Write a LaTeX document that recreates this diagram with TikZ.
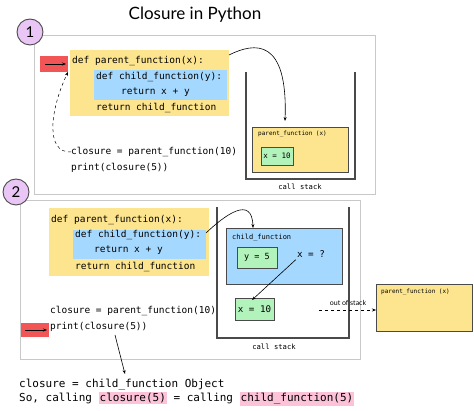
\documentclass[tikz,border=0pt]{standalone}
\usepackage{fontspec}
\setmainfont{Lato}
\setmonofont{DejaVu Sans Mono}
\usetikzlibrary{arrows.meta}
\definecolor{cyel}{HTML}{FCE58E}
\definecolor{cblue}{HTML}{A5D8FF}
\definecolor{cgreen}{HTML}{B2F2BB}
\definecolor{cred}{HTML}{F25555}
\definecolor{cpurple}{HTML}{E9C6F5}
\definecolor{cpink}{HTML}{FCC2D7}
\definecolor{cframe}{HTML}{C8C8C8}
\definecolor{cdark}{HTML}{4A4A4A}
\tikzset{
  area/.style={anchor=north west, inner sep=0pt, outer sep=0pt},
  frame/.style={area, draw=cframe, line width=0.8pt},
  sbox/.style={area, draw=cdark, line width=0.7pt},
  code/.style={anchor=west, inner sep=0pt, font=\fontsize{9.5}{11}\ttfamily},
  small/.style={anchor=west, inner sep=0pt, font=\fontsize{6}{7}\ttfamily},
  stacklbl/.style={inner sep=0pt, font=\fontsize{7.2}{8}\ttfamily},
  stackwall/.style={draw=cdark, line width=1.1pt},
  num/.style={circle, draw=cdark, line width=0.9pt, fill=cpurple, minimum size=26pt, inner sep=0pt, font=\fontsize{15}{15}\selectfont},
  arr/.style={-{Stealth[length=4pt,width=3pt]}, line width=0.6pt, black},
  redmark/.style={area, fill=cred},
}
\begin{document}
\begin{tikzpicture}[x=1pt,y=-1pt]
\useasboundingbox[fill=white] (0,0) rectangle (474,411);

% title
\node[inner sep=0pt, font=\fontsize{17}{20}\selectfont] (title) at (195,15) {Closure in Python};

% ================= frame 1 =================
\node[frame, minimum width=341pt, minimum height=159pt] (f1) at (34,35) {};
\node[num] (n1) at (30,32) {1};

\node[area, fill=cyel, minimum width=159pt, minimum height=66pt] (code1) at (70,50) {};
\node[area, fill=cblue, minimum width=133pt, minimum height=30pt] (blue1) at (94,70) {};
\node[code] (a1) at (72,61) {def parent\_function(x):};
\node[code] (a2) at (96,77) {def child\_function(y):};
\node[code] (a3) at (121,92) {return x + y};
\node[code] (a4) at (96,108) {return child\_function};
\node[code] (a5) at (71,152) {closure = parent\_function(10)};
\node[code] (a6) at (71,168) {print(closure(5))};

\node[redmark, minimum width=28pt, minimum height=16pt] (r1) at (40,56) {};
\coordinate (r1s) at (45,64);
\coordinate (r1e) at (66,64);
\draw[arr] (r1s) -- (r1e);

\draw[arr, dashed, line width=0.5pt] (a5.west) .. controls (45,153) and (50,110) .. (r1.south east);

% stack 1
\draw[stackwall] (246,72) -- (246,179) -- (355,179) -- (355,72);
\node[sbox, fill=cyel, minimum width=96pt, minimum height=45pt] (pf1) at (252,127) {};
\node[small] (pf1l) at (258,134) {parent\_function (x)};
\node[sbox, fill=cgreen, minimum width=32pt, minimum height=18pt] (x1) at (261,147) {};
\node[inner sep=0pt, font=\fontsize{7.5}{8}\ttfamily] (x1l) at (x1.center) {x = 10};
\node[stacklbl] (cs1) at (300,187) {call stack};

\coordinate (top1) at (285,121);
\draw[arr] (code1.north east |- 0,55) .. controls (255,42) and (288,38) .. (top1);

% ================= frame 2 =================
\node[frame, minimum width=340pt, minimum height=159pt] (f2) at (20,200) {};
\node[num] (n2) at (16,192) {2};

\node[area, fill=cyel, minimum width=160pt, minimum height=68pt] (code2) at (49,208) {};
\node[area, fill=cblue, minimum width=133pt, minimum height=29pt] (blue2) at (73,230) {};
\node[code] (b1) at (51,220) {def parent\_function(x):};
\node[code] (b2) at (75,235) {def child\_function(y):};
\node[code] (b3) at (94,250) {return x + y};
\node[code] (b4) at (75,267) {return child\_function};
\node[code] (b5) at (50,311) {closure = parent\_function(10)};
\node[code] (b6) at (50,327) {print(closure(5))};

\node[redmark, minimum width=28pt, minimum height=14pt] (r2) at (21,323) {};
\coordinate (r2s) at (25,330);
\coordinate (r2e) at (47,330);
\draw[arr] (r2s) -- (r2e);

% stack 2
\draw[stackwall] (217,207) -- (217,338) -- (349,338) -- (349,207);
\node[sbox, fill=cblue, minimum width=116pt, minimum height=56pt] (cf) at (226,228) {};
\node[small, font=\fontsize{7}{8}\ttfamily] (cfl) at (232,238) {child\_function};
\node[sbox, fill=cgreen, minimum width=40pt, minimum height=21pt] (y2) at (237,247) {};
\node[inner sep=0pt, font=\fontsize{8.5}{9}\ttfamily] (y2l) at (y2.center) {y = 5};
\node[inner sep=0pt, font=\fontsize{9.3}{10}\ttfamily] (xq) at (311,254) {x = ?};
\node[sbox, fill=cgreen, minimum width=39pt, minimum height=22pt] (x2) at (235,298) {};
\node[inner sep=0pt, font=\fontsize{9.2}{10}\ttfamily] (x2l) at (x2.center) {x = 10};
\node[stacklbl] (cs2) at (274,347) {call stack};

\draw[arr] (xq.south west) ++(-1,2) -- (252,300);

\coordinate (top2) at (253,228);
\draw[arr] (blue2.east |- 0,233) .. controls (225,215) and (252,195) .. (top2);

% popped frame
\node[sbox, fill=cyel, minimum width=96pt, minimum height=47pt] (pf2) at (376,284) {};
\node[small] (pf2l) at (381,292) {parent\_function (x)};
\coordinate (oos) at (319,310);
\draw[arr, dashed, line width=0.5pt] (oos) -- (pf2.west |- 0,310);
\node[inner sep=0pt, font=\fontsize{7}{8}\selectfont] (oosl) at (348,303) {out of stack};

% bottom text
\coordinate (btip) at (125,374);
\draw[arr] (115,335) -- (btip);
\setlength{\fboxsep}{1pt}
\node[anchor=west, inner sep=0pt, font=\fontsize{11}{12}\ttfamily] (t1) at (19,385) {closure = child\_function Object};
\node[anchor=west, inner sep=0pt, font=\fontsize{11}{12}\ttfamily] (t2) at (19,399) {So, calling \colorbox{cpink}{closure(5)} = calling \colorbox{cpink}{child\_function(5)}};
\end{tikzpicture}
\end{document}
